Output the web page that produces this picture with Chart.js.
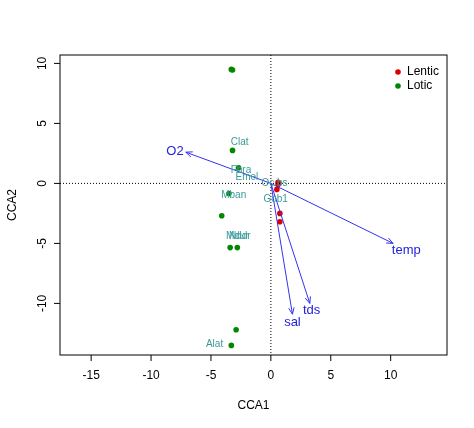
<!DOCTYPE html>
<html><head><meta charset="utf-8">
<script src="https://cdn.jsdelivr.net/npm/chart.js@4"></script>
<style>body{margin:0;background:#fff}#wrap{width:474px;height:428px}</style>
</head><body><div id="wrap"><canvas id="c"></canvas></div>
<script>
// site scores
const lenticX = [0.6, 0.6, 0.5, 0.75, 0.75];
const lenticY = [0.1, -0.1, -0.5, -2.5, -3.2];
const loticX = [-3.3, -3.2, -3.2, -2.7, -3.5, -4.1, -3.4, -2.8, -2.9, -3.3];
const loticY = [9.5, 9.45, 2.75, 1.3, -0.85, -2.7, -5.35, -5.35, -12.2, -13.5];
// species labels
const spNames = ['Clat', 'Fbra', 'Emel', 'Oc.bs', 'Gob1', 'Mban', 'Mdur', 'Nddr', 'Alat'];
const spX = [-2.6, -2.5, -2.0, 0.3, 0.4, -3.1, -2.8, -2.6, -4.7];
const spY = [3.4, 1.1, 0.5, 0.0, -1.3, -1.0, -4.4, -4.4, -13.4];
// environmental vectors
const envNames = ['O2', 'temp', 'tds', 'sal'];
const envX = [-7.1, 10.2, 3.25, 1.8];
const envY = [2.6, -5.0, -10.0, -10.9];
const envLabX = [-8.0, 11.3, 3.4, 1.8];
const envLabY = [2.7, -5.6, -10.6, -11.6];
const xTicks = [-15, -10, -5, 0, 5, 10];
const yTicks = [-10, -5, 0, 5, 10];

const biplot = {
  id: 'biplot',
  afterDatasetsDraw(chart) {
    const {ctx, chartArea: a, scales: {x, y}} = chart;
    ctx.save();
    // zero lines
    ctx.strokeStyle = '#000'; ctx.lineWidth = 1; ctx.setLineDash([1, 2]);
    ctx.beginPath();
    ctx.moveTo(x.getPixelForValue(0), a.top); ctx.lineTo(x.getPixelForValue(0), a.bottom);
    ctx.moveTo(a.left, y.getPixelForValue(0)); ctx.lineTo(a.right, y.getPixelForValue(0));
    ctx.stroke(); ctx.setLineDash([]);
    // arrows
    ctx.strokeStyle = '#3333ee'; ctx.fillStyle = '#2222dd';
    const x0 = x.getPixelForValue(0), y0 = y.getPixelForValue(0);
    envX.forEach((v, i) => {
      const px = x.getPixelForValue(v), py = y.getPixelForValue(envY[i]);
      const ang = Math.atan2(py - y0, px - x0);
      ctx.beginPath(); ctx.moveTo(x0, y0); ctx.lineTo(px, py);
      ctx.moveTo(px - 7 * Math.cos(ang - 0.4), py - 7 * Math.sin(ang - 0.4)); ctx.lineTo(px, py);
      ctx.lineTo(px - 7 * Math.cos(ang + 0.4), py - 7 * Math.sin(ang + 0.4));
      ctx.stroke();
      ctx.font = '13px Arial'; ctx.textAlign = 'center'; ctx.textBaseline = 'middle';
      ctx.fillText(envNames[i], x.getPixelForValue(envLabX[i]), y.getPixelForValue(envLabY[i]));
    });
    // species
    ctx.fillStyle = '#3a9a9a'; ctx.font = '10px Arial';
    spNames.forEach((n, i) => ctx.fillText(n, x.getPixelForValue(spX[i]), y.getPixelForValue(spY[i])));
    // box
    ctx.strokeStyle = '#000'; ctx.strokeRect(a.left, a.top, a.right - a.left, a.bottom - a.top);
    // axes
    ctx.fillStyle = '#000'; ctx.font = '12px Arial';
    ctx.beginPath();
    xTicks.forEach(t => {
      const px = x.getPixelForValue(t);
      ctx.moveTo(px, a.bottom); ctx.lineTo(px, a.bottom + 6);
      ctx.fillText(t, px, a.bottom + 21);
    });
    yTicks.forEach(t => {
      const py = y.getPixelForValue(t);
      ctx.moveTo(a.left, py); ctx.lineTo(a.left - 6, py);
      ctx.save(); ctx.translate(a.left - 17, py); ctx.rotate(-Math.PI / 2);
      ctx.fillText(t, 0, 0); ctx.restore();
    });
    ctx.stroke();
    ctx.fillText('CCA1', (a.left + a.right) / 2, a.bottom + 51);
    ctx.save(); ctx.translate(a.left - 47, (a.top + a.bottom) / 2); ctx.rotate(-Math.PI / 2);
    ctx.fillText('CCA2', 0, 0); ctx.restore();
    // legend
    const leg = [['Lentic', '#dd0000'], ['Lotic', '#008800']];
    ctx.textAlign = 'left'; ctx.font = '12px Arial';
    leg.forEach(([n, c], i) => {
      const ly = a.top + 17 + i * 14;
      ctx.fillStyle = c; ctx.beginPath(); ctx.arc(a.right - 49, ly, 2.8, 0, 2 * Math.PI); ctx.fill();
      ctx.fillStyle = '#000'; ctx.fillText(n, a.right - 40, ly);
    });
    ctx.restore();
  }
};

new Chart(document.getElementById('c'), {
  type: 'scatter',
  data: {
    datasets: [
      {label: 'Lentic', data: lenticX.map((v, i) => ({x: v, y: lenticY[i]})), backgroundColor: '#dd0000', borderWidth: 0, pointRadius: 2.8},
      {label: 'Lotic', data: loticX.map((v, i) => ({x: v, y: loticY[i]})), backgroundColor: '#008800', borderWidth: 0, pointRadius: 2.8}
    ]
  },
  options: {
    responsive: true, maintainAspectRatio: false, animation: false,
    layout: {padding: {left: 60, right: 27, top: 55, bottom: 73}},
    plugins: {legend: {display: false}, tooltip: {enabled: false}},
    scales: {
      x: {display: false, min: -17.6, max: 14.7},
      y: {display: false, min: -14.3, max: 10.7}
    }
  },
  plugins: [biplot]
});
</script></body></html>
